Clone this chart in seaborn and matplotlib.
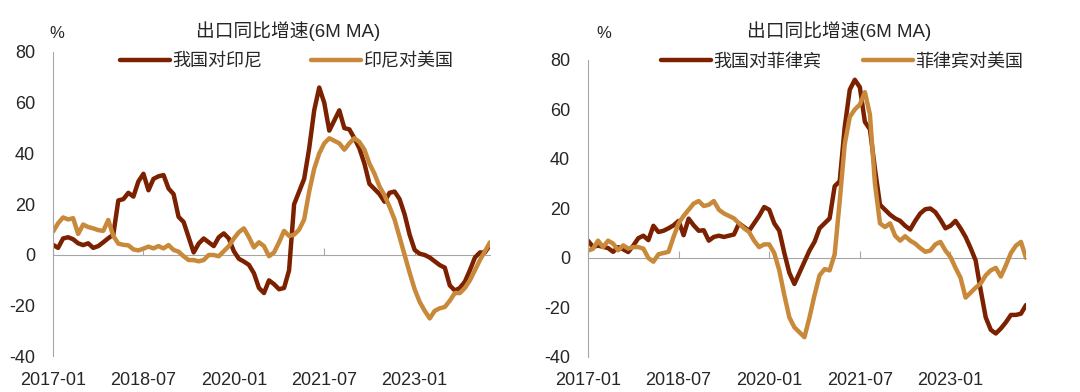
import matplotlib
matplotlib.use("Agg")
import matplotlib.pyplot as plt
import seaborn as sns
import numpy as np
import pandas as pd

# monthly, 2017-01 .. 2024-04, 6M moving average of yoy export growth (%)
months = pd.period_range("2017-01", periods=88, freq="M")

cn_to_idn = [4, 2.8, 6.5, 7, 6.2, 4.6, 3.9, 4.6, 2.8, 3.5, 5, 6.6, 8, 21.5, 22, 24.5, 23, 29,
             32, 25.5, 30, 31, 31.5, 26.2, 24, 15, 13, 7, 1, 4.5, 6.5, 5, 3.5, 7, 8.5, 6.5,
             1.5, -1.5, -2.6, -3.9, -7.2, -13, -15, -10, -11.5, -13.5, -13, -6, 20, 25, 30, 42,
             57, 66, 60, 49, 53, 57, 50, 49.5, 46, 42, 36, 28, 26, 24, 21, 24.5, 25, 22, 16, 8,
             2, 0.5, 0, -1, -2.5, -4, -5, -12, -14, -13, -10.5, -6, -1, 1, 1, 4]
idn_to_us = [9.2, 12.5, 14.8, 14, 14.5, 8.3, 12, 11, 10.5, 9.8, 9.5, 13.8, 7.5, 4.5, 4, 3.8,
             2.2, 1.8, 2.5, 3.3, 2.6, 3.5, 2.6, 3.9, 2, 1.3, -0.5, -2, -2, -2.5, -2, 0, 0, -0.5,
             1.5, 3.5, 6.5, 9, 10.5, 7, 3, 5, 3.5, -0.5, 1, 5, 9.5, 7.5, 8, 10, 14, 25, 34, 40,
             44, 46, 45, 44, 41.5, 44, 46, 44.5, 41.5, 36, 32, 27, 23.5, 19, 14, 7, 0, -7,
             -13.5, -18.5, -22, -25, -22, -21, -20.5, -18, -15, -15, -13, -10, -6, -2, 1.5, 5]

cn_to_phl = [7, 4.5, 5, 4.5, 4, 2.5, 4.4, 3.5, 2.4, 5, 8, 9, 7.2, 13, 10.5, 11, 12, 13.2, 15,
             9.2, 15.9, 13.2, 11, 11.2, 7, 8.5, 9, 8.5, 9, 9.5, 14, 12.5, 11, 14, 17, 20.6, 19.5,
             14, 11, 2, -6, -10.5, -6, -1.5, 3, 6.5, 12, 14, 16, 29, 31, 53, 68, 72, 69, 55, 52,
             36, 21.5, 19.5, 17.5, 16, 15, 13, 11.5, 15, 18, 19.7, 20, 18.5, 15.5, 12, 13, 15,
             12, 8.5, 4, -1, -13, -24, -29, -30.5, -28.5, -26, -23, -23, -22.5, -19]
phl_to_us = [3, 3.7, 7, 4.4, 7, 5.8, 3.1, 5.1, 3.8, 4.4, 4.4, 3.8, 0, -1.5, 1.5, 2, 2.5, 8.5,
             14, 17, 19.5, 22, 23, 21, 21.5, 23, 19.5, 18, 17, 16, 14, 12, 10.5, 7, 4.4, 5.5,
             5.5, 2, -5, -15, -24, -28, -30, -32, -24, -15, -7, -4.5, -5, 1.5, 23, 46, 57, 60,
             62, 67, 58, 30, 14, 12.5, 14, 9, 7, 8.8, 7, 5.8, 4, 2.5, 3, 5.5, 6.5, 3, 0.4, -4,
             -8, -16, -14, -12, -10.3, -7, -5, -4, -7.5, -3, 2, 5, 6.5, 0]

title = "出口同比增速(6M MA)"
tick_idx = [0, 18, 36, 54, 72]
tick_labels = [months[i].strftime("%Y-%m") for i in tick_idx]

dark = "#7B2100"
gold = "#C8893A"
gray = "#A6A6A6"

sns.set_style("white")
plt.rcParams["font.family"] = ["Liberation Sans", "Noto Sans CJK SC", "DejaVu Sans"]
plt.rcParams["axes.unicode_minus"] = False

fig = plt.figure(figsize=(10.8, 3.92), dpi=100)
ax1 = fig.add_axes([0.0491, 0.0906, 0.4046, 0.7768])
ax2 = fig.add_axes([0.5444, 0.0893, 0.4056, 0.7577])

panels = [
    (ax1, ("我国对印尼", cn_to_idn), ("印尼对美国", idn_to_us), 288, 57, 120, 2.7),
    (ax2, ("我国对菲律宾", cn_to_phl), ("菲律宾对美国", phl_to_us), 839, 604, 661, 2.3),
]

for ax, s1, s2, title_x, pct_x, leg_x, colsp in panels:
    df = pd.DataFrame({"t": np.arange(len(months)), s1[0]: s1[1], s2[0]: s2[1]})
    df = df.melt("t", var_name="series", value_name="yoy")
    sns.lineplot(data=df, x="t", y="yoy", hue="series", palette=[dark, gold],
                 lw=3.2, ax=ax, legend=False, solid_capstyle="round", solid_joinstyle="round")

    ymin, ymax = -40, 80
    ax.set_xlim(0, len(months) - 1)
    ax.set_ylim(ymin, ymax)
    ax.set_yticks(range(-40, 81, 20))
    ax.set_xticks(tick_idx, tick_labels)
    ax.set_xlabel("")
    ax.set_ylabel("")
    for side in ["top", "right", "bottom"]:
        ax.spines[side].set_visible(False)
    ax.spines["left"].set_color(gray)
    ax.tick_params(axis="y", direction="in", length=5, color=gray, pad=13, labelsize=13)
    ax.tick_params(axis="x", length=0, pad=11, labelsize=13)

    # zero line with inward ticks (Excel style)
    sec = ax.secondary_xaxis((0 - ymin) / (ymax - ymin))
    sec.set_xticks(tick_idx)
    sec.tick_params(axis="x", direction="in", length=5, color=gray, labelbottom=False, labeltop=False)
    for sp in sec.spines.values():
        sp.set_color(gray)

    ax.legend(handles=ax.lines[:2], labels=[s1[0], s2[0]], ncol=2, frameon=False,
              loc="center left", bbox_to_anchor=(leg_x / 1080, 1 - 62 / 392),
              bbox_transform=fig.transFigure, borderaxespad=0, borderpad=0,
              handlelength=2.75, handletextpad=0.15, columnspacing=colsp, fontsize=13)

    fig.text(title_x / 1080, 1 - 31 / 392, title, ha="center", va="center", fontsize=13.5)
    fig.text(pct_x / 1080, 1 - 33 / 392, "%", ha="center", va="center", fontsize=12)

fig.savefig("out.png", dpi=100)
